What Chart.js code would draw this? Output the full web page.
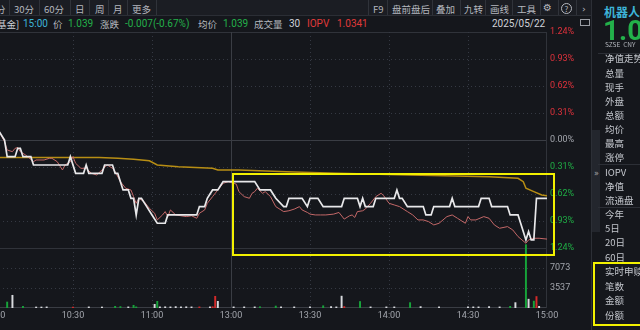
<!DOCTYPE html>
<html><head><meta charset="utf-8">
<script src="https://cdn.jsdelivr.net/npm/chart.js@4.4.1/dist/chart.umd.min.js"></script>
<style>
*{box-sizing:border-box}
html,body{margin:0;padding:0;width:640px;height:330px;overflow:hidden;background:#15171c;}
body{position:relative;font-family:"Noto Sans CJK SC","Noto Sans",sans-serif;}
.s{position:absolute;white-space:nowrap;font-size:9.5px;line-height:12px;color:#b4b7be;}
.n{font-family:Roboto,"Noto Sans",sans-serif;font-size:10px;}
.g{color:#23b04a}.r{color:#e03a3a}.c{color:#3db4d8}.w{color:#cfd2d8}
#row1{position:absolute;left:0;top:0;width:591px;height:16px;background:#1b1d23;border-bottom:1px solid #2b2e35;}
.vs{position:absolute;top:0;width:1px;height:15px;background:#30333a}
#wrap{position:absolute;left:-85px;top:20px;width:677px;height:310px}
.box{position:absolute;border:2.5px solid #f2f000}
.hl{position:absolute;left:598px;width:50px;height:1px;background:#2c2f36}
.p{left:605px;font-size:9.5px;color:#c3c6cc}
</style></head>
<body>
<div id="row1"></div>
<div class="vs" style="left:9px"></div><div class="vs" style="left:39px"></div><div class="vs" style="left:70px"></div>
<div class="vs" style="left:89px"></div><div class="vs" style="left:108px"></div><div class="vs" style="left:127px"></div>
<div class="vs" style="left:156px"></div>
<div class="vs" style="left:368px"></div><div class="vs" style="left:387px"></div><div class="vs" style="left:432px"></div><div class="vs" style="left:460px"></div>
<div class="vs" style="left:485px"></div><div class="vs" style="left:512px"></div><div class="vs" style="left:540px"></div>
<div class="vs" style="left:558px"></div><div class="vs" style="left:576px"></div>
<span class="s" style="left:-4px;top:3px">分</span>
<span class="s" style="left:14px;top:3px">30分</span>
<span class="s" style="left:44px;top:3px">60分</span>
<span class="s" style="left:75px;top:3px">日</span>
<span class="s" style="left:95px;top:3px">周</span>
<span class="s" style="left:113px;top:3px">月</span>
<span class="s" style="left:132px;top:3px">更多</span>
<span class="s" style="left:373px;top:3px">F9</span>
<span class="s" style="left:392px;top:3px">盘前盘后</span>
<span class="s" style="left:436px;top:3px">叠加</span>
<span class="s" style="left:464px;top:3px">九转</span>
<span class="s" style="left:490px;top:3px">画线</span>
<span class="s" style="left:517px;top:3px">工具</span>
<span class="s" style="left:543px;top:2px;font-family:'DejaVu Sans';font-size:10px">⚙</span>
<div class="s" style="left:561px;top:3px;width:11px;height:11px;border:1px solid #b4b7be;border-radius:50%;font-size:8px;line-height:9px;text-align:center">?</div>
<span class="s" style="left:582px;top:3px;font-family:'DejaVu Sans'">›</span>

<span class="s w" style="left:-3px;top:18px">基金]</span>
<span class="s n c" style="left:23px;top:18px">15:00</span>
<span class="s" style="left:53px;top:18px">价</span>
<span class="s n g" style="left:68px;top:18px">1.039</span>
<span class="s" style="left:100px;top:18px">涨跌</span>
<span class="s n g" style="left:125px;top:18px">-0.007(-0.67%)</span>
<span class="s" style="left:198px;top:18px">均价</span>
<span class="s n g" style="left:223px;top:18px">1.039</span>
<span class="s" style="left:254px;top:18px">成交量</span>
<span class="s n w" style="left:289px;top:18px">30</span>
<span class="s n r" style="left:307px;top:18px">IOPV</span>
<span class="s n r" style="left:337px;top:18px">1.0341</span>
<span class="s n w" style="left:492px;top:18px">2025/05/22</span>
<div style="position:absolute;left:580px;top:19px;width:10px;height:7px;border:1px solid #9a9da4"></div>

<div id="wrap"><canvas id="c"></canvas></div>

<div style="position:absolute;left:591px;top:0;width:1px;height:330px;background:#2c2f36"></div>
<div style="position:absolute;left:592px;top:130px;width:8px;height:102px;background:#23262d"></div>
<span class="s" style="left:594px;top:168px;font-size:8px;color:#aaa;font-family:'DejaVu Sans'">»</span>
<span class="s c" style="left:604px;top:4px;font-size:12px;line-height:15px;font-weight:bold">机器人ETF</span>
<span class="s n g" style="left:603px;top:16px;font-size:28px;line-height:30px;font-weight:bold">1.039</span>
<span class="s" style="left:605px;top:40px;font-size:6.5px;line-height:8px">SZSE&nbsp;&nbsp;CNY</span>
<div class="hl" style="top:53px"></div><div class="hl" style="top:164px"></div>
<div class="hl" style="top:207px"></div><div class="hl" style="top:262px"></div>
<span class="s p" style="top:52px">净值走势</span>
<span class="s p" style="top:67px">总量</span>
<span class="s p" style="top:81px">现手</span>
<span class="s p" style="top:95px">外盘</span>
<span class="s p" style="top:109px">总额</span>
<span class="s p" style="top:123px">均价</span>
<span class="s p" style="top:137px">最高</span>
<span class="s p" style="top:151px">涨停</span>
<span class="s p" style="top:166px">IOPV</span>
<span class="s p" style="top:180px">净值</span>
<span class="s p" style="top:194px">流通盘</span>
<span class="s p" style="top:208px">今年</span>
<span class="s p" style="top:222px">5日</span>
<span class="s p" style="top:236px">20日</span>
<span class="s p" style="top:251px">60日</span>
<span class="s p" style="top:265px">实时申赎</span>
<span class="s p" style="top:280px">笔数</span>
<span class="s p" style="top:294px">金额</span>
<span class="s p" style="top:309px">份额</span>

<div class="box" style="left:232px;top:173px;width:323px;height:83px"></div>
<div class="box" style="left:593px;top:262px;width:60px;height:64px"></div>

<script>
// ---- data ----
const prevClose = 1.046;
const pctTicks = [1.24, 0.93, 0.62, 0.31, 0, -0.31, -0.62, -0.93, -1.24];
const volTicks = [3537, 7073];
const volTop = 10610;
const timeTicks = ['10:00','10:30','11:00','13:00','13:30','14:00','14:30','15:00'];

const priceTimes = ['10:01','10:02','10:04','10:05','10:08','10:09','10:10','10:11','10:14','10:15','10:28','10:29','10:31','10:34','10:35','10:36','10:41','10:42','10:45','10:46','10:47','10:48','10:49','10:51','10:52','10:53','10:54','10:55','10:56','10:58','11:00','11:02','11:05','11:06','11:17','11:18','11:20','11:21','11:23','11:25','11:27','11:30',
 '13:09','13:11','13:15','13:17','13:20','13:21','13:22','13:27','13:29','13:30','13:33','13:35','13:42','13:43','13:48','13:49','13:50','13:51','13:54','13:55','14:02','14:03','14:04','14:05','14:07','14:13','14:14','14:16','14:17','14:23','14:24','14:25','14:34','14:35','14:38','14:39','14:45','14:46','14:49','14:50','14:52','14:53','14:54','14:55','14:56','15:00'];
const priceValues = [1.048,1.047,1.046,1.044,1.044,1.045,1.045,1.044,1.044,1.043,1.043,1.044,1.042,1.042,1.043,1.042,1.042,1.043,1.043,1.042,1.042,1.041,1.040,1.040,1.039,1.039,1.037,1.039,1.039,1.038,1.037,1.036,1.036,1.037,1.037,1.038,1.038,1.039,1.040,1.040,1.041,1.041,
 1.041,1.040,1.040,1.039,1.038,1.038,1.039,1.039,1.038,1.039,1.039,1.038,1.038,1.039,1.039,1.038,1.039,1.038,1.038,1.039,1.039,1.040,1.039,1.039,1.038,1.038,1.037,1.037,1.038,1.038,1.039,1.038,1.038,1.039,1.039,1.038,1.038,1.037,1.037,1.036,1.034,1.035,1.034,1.034,1.039,1.039];

const iopvTimes = ['10:01','10:02','10:04','10:05','10:07','10:08','10:09','10:10','10:12','10:15','10:16','10:19','10:21','10:22','10:24','10:26','10:27','10:29','10:30','10:31','10:33','10:35','10:37','10:39','10:41','10:43','10:45','10:46','10:48','10:50','10:52','10:53','10:54','10:55','10:57','10:59','11:01','11:02','11:04','11:05','11:06','11:07','11:09','11:11','11:13','11:15','11:17','11:18','11:20','11:21','11:23','11:25','11:27','11:29','11:30',
 '13:02','13:03','13:05','13:07','13:08','13:09','13:10','13:12','13:13','13:15','13:17','13:19','13:20','13:22','13:24','13:26','13:27','13:29','13:30','13:32','13:34','13:36','13:39','13:41','13:43','13:45','13:46','13:47','13:48','13:50','13:51','13:53','13:55','13:57','13:58','14:00','14:02','14:04','14:07','14:09','14:11','14:13','14:15','14:17','14:19','14:22','14:24','14:26','14:29','14:30','14:31','14:33','14:36','14:38','14:40','14:42','14:45','14:47','14:49','14:52','14:53','14:55','14:57','15:00'];
const iopvValues = [1.0478,1.0470,1.0458,1.0448,1.0446,1.0450,1.0451,1.0446,1.0442,1.0434,1.0436,1.0436,1.0438,1.0438,1.0434,1.0424,1.0430,1.0434,1.0440,1.0432,1.0426,1.0426,1.0420,1.0418,1.0424,1.0430,1.0426,1.0422,1.0410,1.0402,1.0400,1.0392,1.0384,1.0390,1.0386,1.0378,1.0372,1.0364,1.0370,1.0374,1.0368,1.0376,1.0370,1.0369,1.0368,1.0369,1.0366,1.0372,1.0376,1.0384,1.0392,1.0400,1.0408,1.0410,1.0409,
 1.0407,1.0398,1.0392,1.0390,1.0396,1.0398,1.0402,1.0396,1.0398,1.0392,1.0380,1.0376,1.0374,1.0375,1.0377,1.0380,1.0376,1.0373,1.0371,1.0370,1.0370,1.0370,1.0371,1.0373,1.0365,1.0369,1.0370,1.0367,1.0374,1.0375,1.0377,1.0384,1.0392,1.0396,1.0393,1.0384,1.0382,1.0380,1.0374,1.0370,1.0364,1.0364,1.0362,1.0358,1.0360,1.0368,1.0370,1.0366,1.0360,1.0368,1.0364,1.0364,1.0368,1.0366,1.0358,1.0354,1.0356,1.0352,1.0344,1.0336,1.0340,1.0342,1.0342,1.0341];

const avgTimes = ['10:01','10:40','10:47','10:53','10:59','11:02','11:10','11:23','11:25','11:30','13:03','13:21','13:40','14:08','14:38','14:49','14:51','14:52','14:55','14:58','15:00'];
const avgValues = [1.0439,1.0439,1.0438,1.0437,1.0435,1.0430,1.0428,1.0426,1.0424,1.0424,1.0424,1.0422,1.0420,1.0418,1.0416,1.0414,1.0410,1.0402,1.0398,1.0394,1.0393];

const volTimes = ['10:05','10:07','10:11','10:16','10:18','10:20','10:30','10:36','10:41','10:46','10:48','10:51','10:53','10:54','11:01','11:02','11:03','11:05','11:07','11:09','11:11','11:13','11:15','11:18','11:22','11:23','11:24','11:25',
 '13:01','13:05','13:09','13:11','13:17','13:19','13:24','13:30','13:35','13:38','13:40','13:42','13:43','13:49','13:53','13:59','14:02','14:08','14:12','14:19','14:30','14:32','14:34','14:38','14:42','14:46','14:48','14:52','14:53','14:55','14:56','14:57'];
const volValues = [1060,2250,300,180,180,200,150,200,180,300,250,200,480,200,650,1180,200,220,200,250,200,220,200,200,200,220,2070,1180,
 200,200,200,220,350,200,200,200,400,250,200,2100,250,1150,200,200,200,950,250,200,200,200,200,250,200,300,950,11200,1560,1220,2030,300];
// 1 = up (red), -1 = down (green), 0 = flat (white)
const volSide = [-1,0,-1,0,0,0,1,0,0,-1,-1,0,-1,-1,0,-1,0,0,0,0,0,0,0,1,0,1,1,0,
 0,0,0,-1,-1,0,0,0,-1,0,0,0,1,-1,0,0,0,-1,0,0,0,0,0,0,0,-1,0,-1,0,-1,1,0];

// ---- helpers ----
function toIdx(t){ const [h,m]=t.split(':').map(Number); const mm=h*60+m; return mm<=690 ? mm-570 : mm-780+120; }
const pctToPrice = p => prevClose*(1+p/100);
const PRICE_PX = 216, VOL_PX = 60;
const pTop = pctToPrice(pctTicks[0]), pBot = pctToPrice(pctTicks[pctTicks.length-1]);
const yMin = pTop - (pTop-pBot)*(PRICE_PX+VOL_PX)/PRICE_PX;
const yvMax = volTop*(PRICE_PX+VOL_PX)/VOL_PX;
const sideColor = s => s>0 ? '#d42a2a' : (s<0 ? '#17a33a' : '#d8dade');

const decor = {
  id:'decor',
  beforeDatasetsDraw(chart){
    const {ctx, chartArea:a, scales} = chart;
    const x=scales.x, y=scales.y, yv=scales.yv;
    ctx.save(); ctx.lineWidth=1;
    const h=(py,dash,col)=>{ctx.beginPath();ctx.setLineDash(dash);ctx.strokeStyle=col;const yy=Math.round(py)+0.5;ctx.moveTo(a.left,yy);ctx.lineTo(a.right,yy);ctx.stroke();};
    const v=(px,dash,col)=>{ctx.beginPath();ctx.setLineDash(dash);ctx.strokeStyle=col;const xx=Math.round(px)+0.5;ctx.moveTo(xx,a.top);ctx.lineTo(xx,a.bottom);ctx.stroke();};
    pctTicks.forEach(p=>{const py=y.getPixelForValue(pctToPrice(p));
      if(p===0) h(py,[],'#3a3d44'); else if(Math.abs(p)===1.24) h(py,[],'#30333a'); else h(py,[1,3],'#353943');});
    volTicks.forEach(vv=>h(yv.getPixelForValue(vv),[1,3],'#353943'));
    h(a.bottom-1,[],'#3a3d44');
    timeTicks.forEach(t=>{const px=x.getPixelForValue(toIdx(t));
      if(t==='13:00') v(px,[],'#3a3d44'); else if(t==='15:00') v(px-1,[],'#30333a'); else v(px,[1,3],'#353943');});
    ctx.restore();
  },
  afterDraw(chart){
    const {ctx, chartArea:a, scales} = chart;
    const x=scales.x, y=scales.y, yv=scales.yv;
    ctx.save();
    ctx.font='9px Roboto, "Noto Sans", sans-serif'; ctx.textBaseline='middle'; ctx.textAlign='left';
    pctTicks.forEach(p=>{
      ctx.fillStyle = p>0 ? '#e0323c' : (p<0 ? '#1fae45' : '#a3a6ad');
      ctx.fillText(Math.abs(p).toFixed(2)+'%', a.right+3, y.getPixelForValue(pctToPrice(p)));
    });
    ctx.fillStyle='#a3a6ad';
    volTicks.forEach(vv=>ctx.fillText(String(vv), a.right+3, yv.getPixelForValue(vv)));
    ctx.textAlign='center';
    timeTicks.forEach(t=>ctx.fillText(t, x.getPixelForValue(toIdx(t)), a.bottom+8));
    ctx.restore();
  }
};

new Chart(document.getElementById('c'), {
  type:'line',
  data:{datasets:[
    {label:'价格', data:priceTimes.map((t,i)=>({x:toIdx(t),y:priceValues[i]})), borderColor:'#e8e8ea', borderWidth:1.7, pointRadius:0, tension:0, yAxisID:'y', order:0},
    {label:'IOPV', data:iopvTimes.map((t,i)=>({x:toIdx(t),y:iopvValues[i]})), borderColor:'#c46868', borderWidth:1, pointRadius:0, tension:0, yAxisID:'y', order:1},
    {label:'均价', data:avgTimes.map((t,i)=>({x:toIdx(t),y:avgValues[i]})), borderColor:'#b88e14', borderWidth:1.5, pointRadius:0, tension:0, yAxisID:'y', order:2},
    {type:'bar', label:'成交量', data:volTimes.map((t,i)=>({x:toIdx(t),y:volValues[i]})), backgroundColor:volSide.map(sideColor), barThickness:1.3, yAxisID:'yv', order:3}
  ]},
  options:{
    responsive:true, maintainAspectRatio:false, animation:false,
    layout:{padding:{top:12,bottom:22,left:0,right:45}},
    plugins:{legend:{display:false}, tooltip:{enabled:false}},
    scales:{
      x:{type:'linear', min:0, max:240, display:false, offset:false},
      y:{type:'linear', min:yMin, max:pTop, display:false},
      yv:{type:'linear', min:0, max:yvMax, display:false}
    }
  },
  plugins:[decor]
});
</script>
</body></html>
